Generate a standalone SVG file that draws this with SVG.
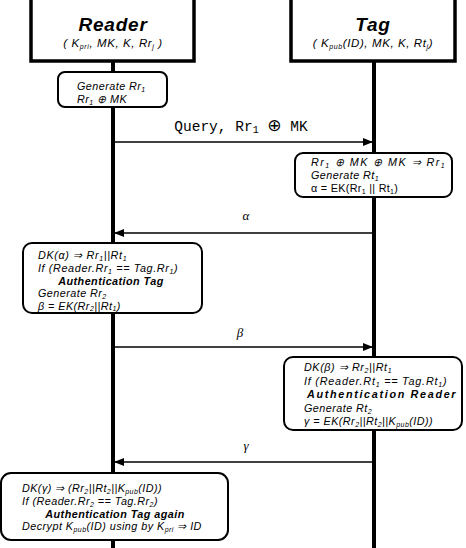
<svg xmlns="http://www.w3.org/2000/svg" width="466" height="548" viewBox="0 0 466 548">
<style>
.hdr{fill:#fff;stroke:#000;stroke-width:3.5}
.box{fill:#fff;stroke:#000;stroke-width:2}
.life{stroke:#000;stroke-width:4}
.msg{stroke:#000;stroke-width:1.5;fill:none;marker-end:url(#ah)}
.t{font-family:"Liberation Sans",Arial,sans-serif;font-style:italic;font-size:10.8px;letter-spacing:0.45px;fill:#000}
.u{font-family:"Liberation Sans",Arial,sans-serif;font-size:10.8px;letter-spacing:0.3px;fill:#000}
.b{font-weight:bold}
.title{font-family:"Liberation Sans",Arial,sans-serif;font-style:italic;font-weight:bold;font-size:19px;letter-spacing:0.8px;text-anchor:middle}
.sub{font-family:"Liberation Sans",Arial,sans-serif;font-style:italic;font-size:11.5px;letter-spacing:0.6px;text-anchor:middle}
.mono{font-family:"Liberation Mono","Courier New",monospace;font-size:14.5px;text-anchor:middle}
.op{font-family:"DejaVu Sans",sans-serif;font-size:17px}
.greek{font-family:"Liberation Serif","Times New Roman",serif;font-style:italic;font-size:13px;text-anchor:middle}
.s{font-size:7px}
</style>
<defs>
<marker id="ah" markerWidth="10" markerHeight="8" refX="9" refY="4" orient="auto" markerUnits="userSpaceOnUse">
<path d="M0,0 L10,4 L0,8 z" fill="#000"/>
</marker>
</defs>
<g id="lifelines">
<line class="life" x1="113" y1="60" x2="113" y2="548"/>
<line class="life" x1="374" y1="60" x2="374" y2="548"/>
</g>
<g id="reader">
<rect class="hdr" x="31" y="-2" width="163" height="63"/>
<text class="title" x="113" y="31">Reader</text>
<text class="sub" x="113" y="47">( K<tspan class="s" dy="2">pri</tspan><tspan dy="-2">, MK, K, Rr</tspan><tspan class="s" dy="2">j</tspan><tspan dy="-2"> )</tspan></text>
</g>
<g id="tag">
<rect class="hdr" x="291" y="-2" width="164" height="63"/>
<text class="title" x="373" y="31">Tag</text>
<text class="sub" x="373" y="47">( K<tspan class="s" dy="2">pub</tspan><tspan dy="-2">(ID), MK, K, Rt</tspan><tspan class="s" dy="2">j</tspan><tspan dy="-2">)</tspan></text>
</g>
<g id="connectors">
<line class="msg" x1="115" y1="142" x2="372" y2="142"/>
<line class="msg" x1="372" y1="233" x2="115" y2="233"/>
<line class="msg" x1="115" y1="347" x2="372" y2="347"/>
<line class="msg" x1="372" y1="462" x2="115" y2="462"/>
<text class="mono" x="241" y="131">Query, Rr<tspan font-size="10px" dy="2">1</tspan><tspan dy="-2"> </tspan><tspan class="op">⊕</tspan><tspan> MK</tspan></text>
<text class="greek" x="246" y="220">α</text>
<text class="greek" x="240" y="337">β</text>
<text class="greek" x="246" y="450">γ</text>
</g>
<g id="step1">
<rect class="box" x="58" y="72" width="109" height="35" rx="7"/>
<text class="t" x="77" y="90">Generate Rr<tspan class="s" dy="1.5">1</tspan></text>
<text class="t" x="77" y="103">Rr<tspan class="s" dy="1.5">1</tspan><tspan dy="-1.5"> ⊕ MK</tspan></text>
</g>
<g id="step2">
<rect class="box" x="295" y="153" width="157" height="44" rx="8"/>
<text class="t" x="311" y="166" textLength="134" lengthAdjust="spacing">Rr<tspan class="s" dy="1.5">1</tspan><tspan dy="-1.5"> ⊕ MK ⊕ MK ⇒ Rr</tspan><tspan class="s" dy="1.5">1</tspan></text>
<text class="t" x="311" y="179">Generate Rt<tspan class="s" dy="1.5">1</tspan></text>
<text class="u" x="311" y="192">α = EK(Rr<tspan class="s" dy="1.5">1</tspan><tspan dy="-1.5"> || Rt</tspan><tspan class="s" dy="1.5">1</tspan><tspan dy="-1.5">)</tspan></text>
</g>
<g id="step3">
<rect class="box" x="23" y="243" width="179" height="70" rx="9"/>
<text class="t" x="38" y="259" textLength="89" lengthAdjust="spacing">DK(α) ⇒ Rr<tspan class="s" dy="1.5">1</tspan><tspan dy="-1.5">||Rt</tspan><tspan class="s" dy="1.5">1</tspan></text>
<text class="t" x="38" y="272" textLength="140" lengthAdjust="spacing">If (Reader.Rr<tspan class="s" dy="1.5">1</tspan><tspan dy="-1.5"> == Tag.Rr</tspan><tspan class="s" dy="1.5">1</tspan><tspan dy="-1.5">)</tspan></text>
<text class="t b" x="111" y="284.5" text-anchor="middle">Authentication  Tag</text>
<text class="t" x="38" y="297">Generate Rr<tspan class="s" dy="1.5">2</tspan></text>
<text class="t" x="38" y="309.5">β = EK(Rr<tspan class="s" dy="1.5">2</tspan><tspan dy="-1.5">||Rt</tspan><tspan class="s" dy="1.5">1</tspan><tspan dy="-1.5">)</tspan></text>
</g>
<g id="step4">
<rect class="box" x="284" y="357" width="178" height="73" rx="9"/>
<text class="t" x="304" y="371" textLength="88" lengthAdjust="spacing">DK(β) ⇒ Rr<tspan class="s" dy="1.5">2</tspan><tspan dy="-1.5">||Rt</tspan><tspan class="s" dy="1.5">1</tspan></text>
<text class="t" x="304" y="385" textLength="143" lengthAdjust="spacing">If (Reader.Rt<tspan class="s" dy="1.5">1</tspan><tspan dy="-1.5"> == Tag.Rt</tspan><tspan class="s" dy="1.5">1</tspan><tspan dy="-1.5">)</tspan></text>
<text class="t b" x="307" y="398" textLength="149" lengthAdjust="spacing">Authentication Reader</text>
<text class="t" x="304" y="412">Generate Rt<tspan class="s" dy="1.5">2</tspan></text>
<text class="t" x="304" y="425">γ = EK(Rr<tspan class="s" dy="1.5">2</tspan><tspan dy="-1.5">||Rt</tspan><tspan class="s" dy="1.5">2</tspan><tspan dy="-1.5">||K</tspan><tspan class="s" dy="1.5">pub</tspan><tspan dy="-1.5">(ID))</tspan></text>
</g>
<g id="step5">
<rect class="box" x="1" y="473" width="227" height="67" rx="10"/>
<text class="t" x="22" y="492" textLength="140" lengthAdjust="spacing">DK(γ) ⇒ (Rr<tspan class="s" dy="1.5">2</tspan><tspan dy="-1.5">||Rt</tspan><tspan class="s" dy="1.5">2</tspan><tspan dy="-1.5">||K</tspan><tspan class="s" dy="1.5">pub</tspan><tspan dy="-1.5">(ID))</tspan></text>
<text class="t" x="22" y="505" textLength="136" lengthAdjust="spacing">If (Reader.Rr<tspan class="s" dy="1.5">2</tspan><tspan dy="-1.5"> == Tag.Rr</tspan><tspan class="s" dy="1.5">2</tspan><tspan dy="-1.5">)</tspan></text>
<text class="t b" x="115" y="517.5" text-anchor="middle">Authentication  Tag again</text>
<text class="t" x="22" y="530">Decrypt K<tspan class="s" dy="1.5">pub</tspan><tspan dy="-1.5">(ID) using by K</tspan><tspan class="s" dy="1.5">pri</tspan><tspan dy="-1.5"> ⇒ ID</tspan></text>
</g>
</svg>
